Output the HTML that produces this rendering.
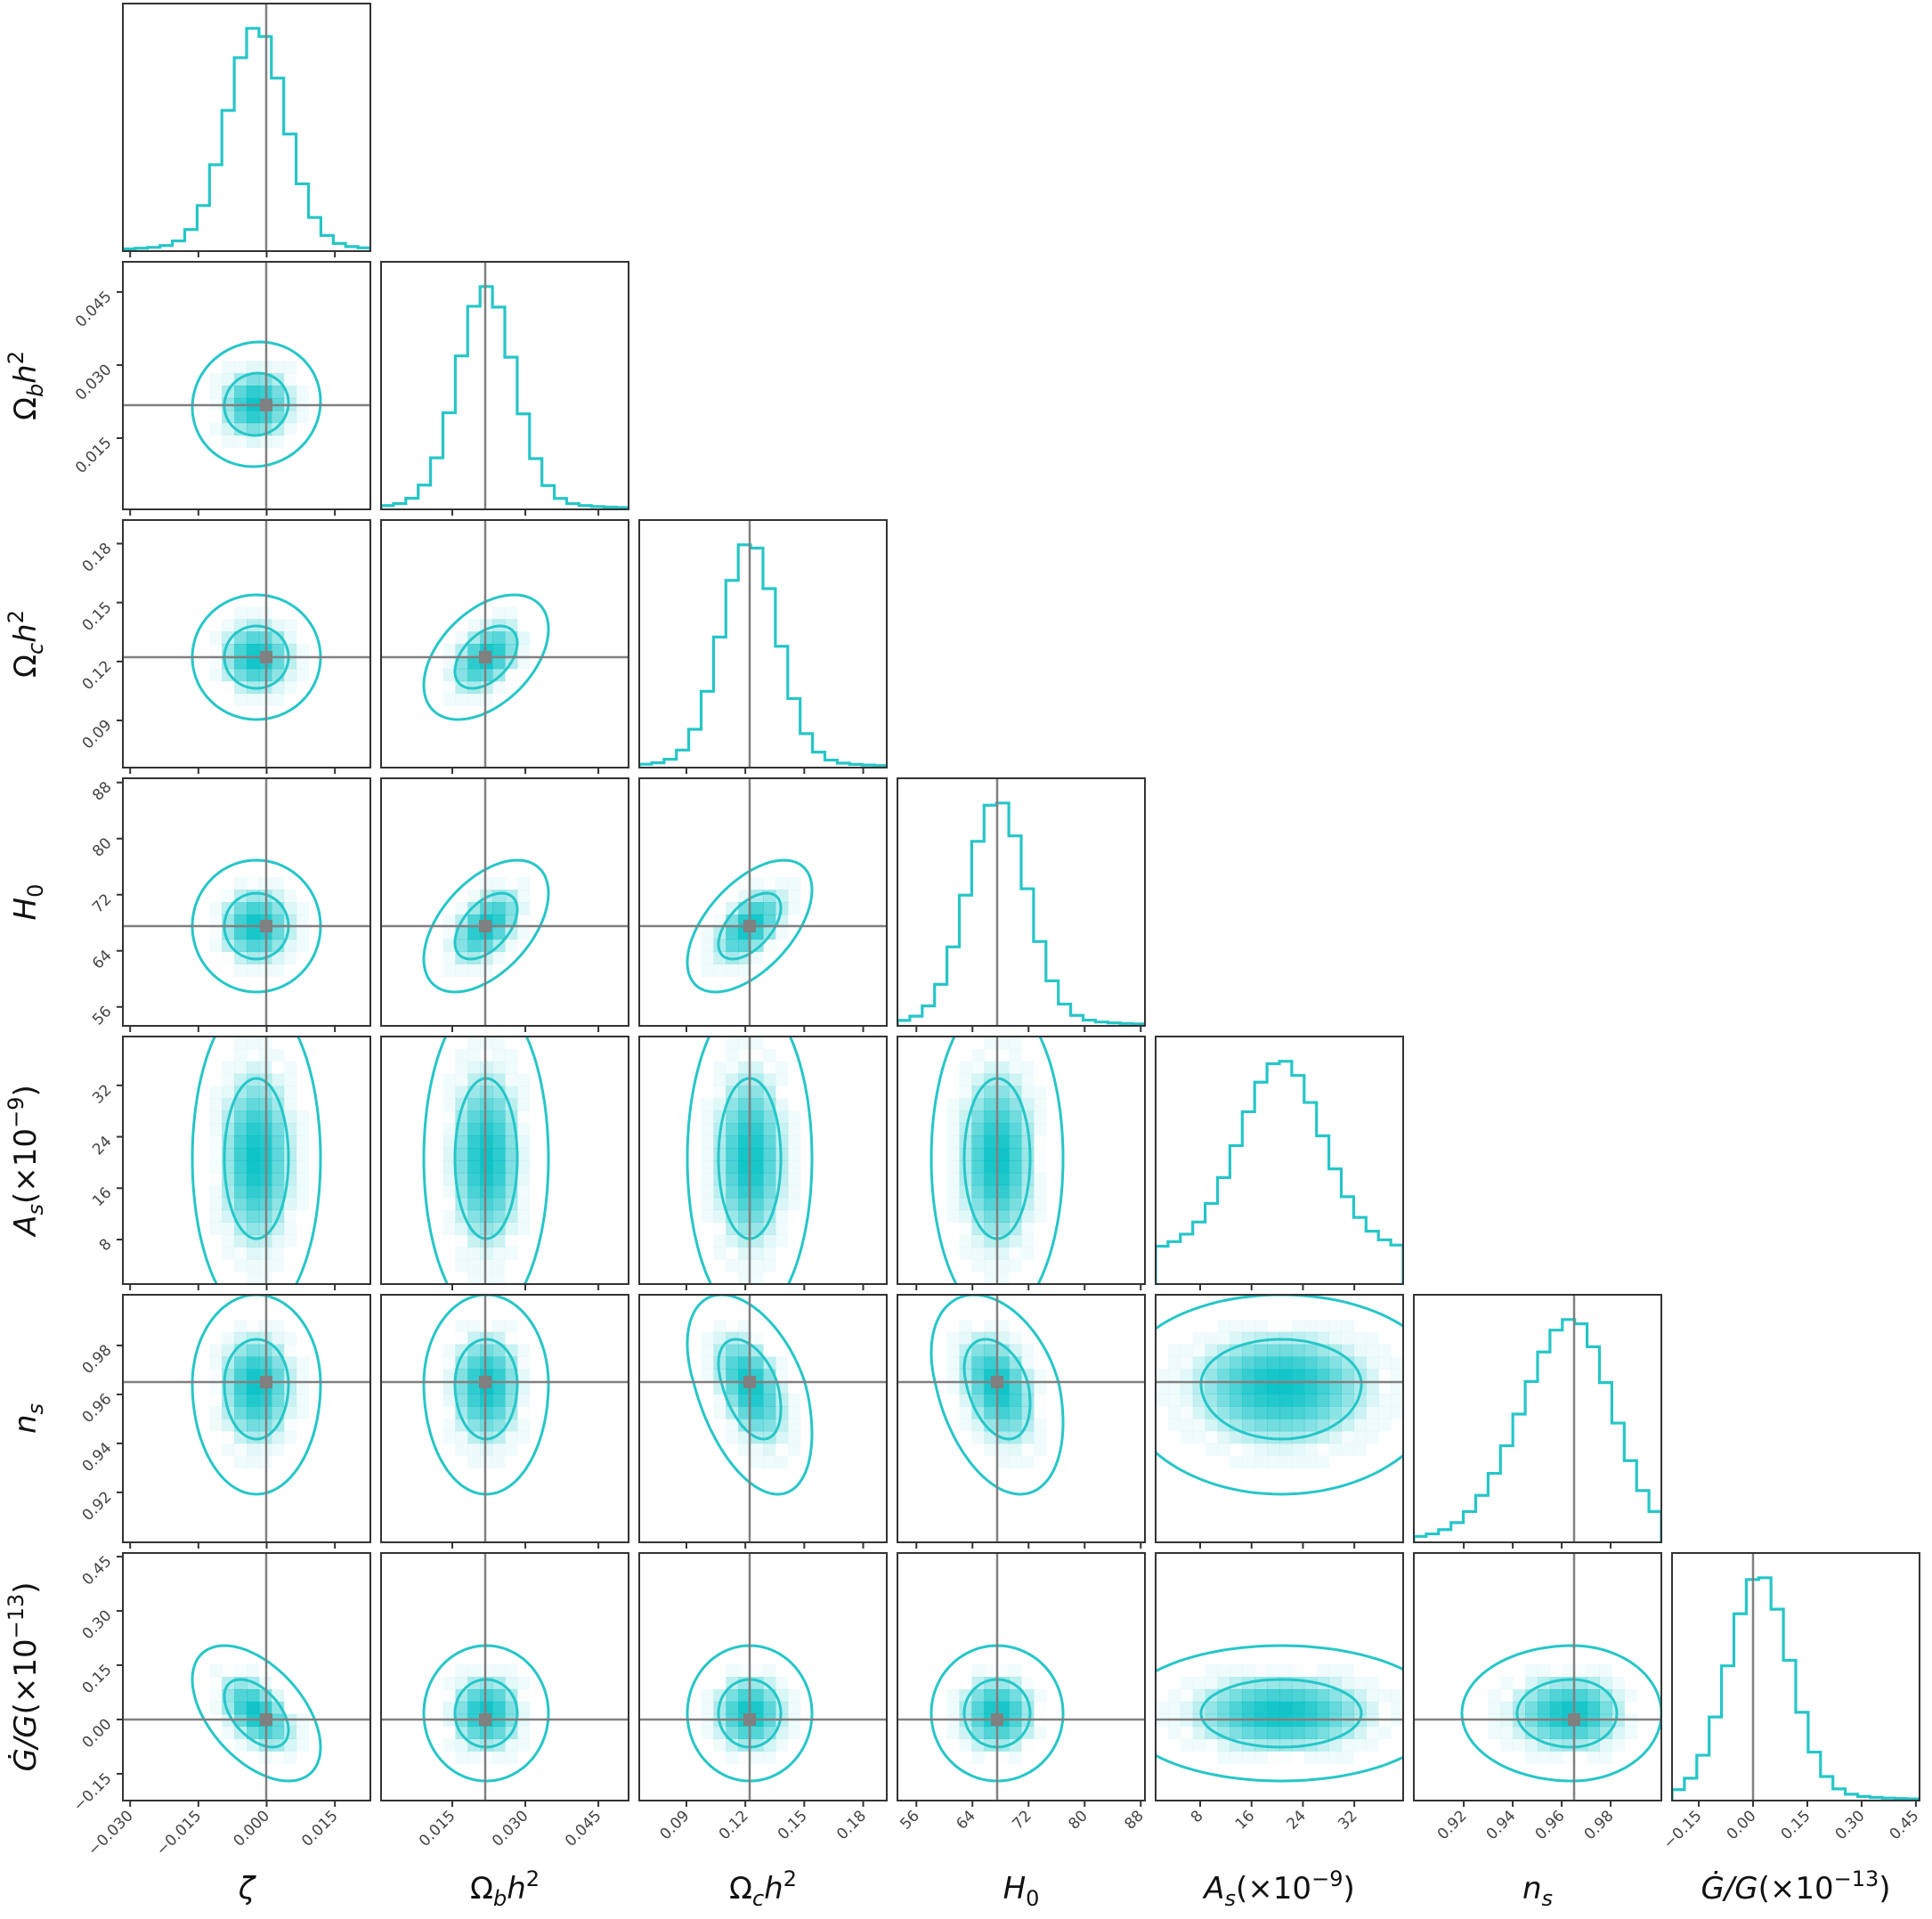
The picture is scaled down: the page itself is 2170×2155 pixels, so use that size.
<!DOCTYPE html>
<html><head><meta charset="utf-8"><style>
html,body{margin:0;padding:0;background:#fff;}
svg{display:block;}
</style></head><body>
<svg id="s" width="2170" height="2155" xmlns="http://www.w3.org/2000/svg" font-family="DejaVu Sans, Liberation Sans, sans-serif"></svg>
<script>
const svg=document.getElementById('s');
const L=138,T=4,P=290,S=278,C='#26c6c8';
let out='';
const pr=[
 {mu:150,lo:36,hi:36,truth:161,min:-0.0316,max:0.0228,ticks:[[-0.030,'−0.030'],[-0.015,'−0.015'],[0,'0.000'],[0.015,'0.015']]},
 {mu:118,lo:35,hi:35,truth:117,min:0.00037,max:0.0512,ticks:[[0.015,'0.015'],[0.030,'0.030'],[0.045,'0.045']]},
 {mu:124,lo:35,hi:35,truth:124,min:0.066,max:0.192,ticks:[[0.09,'0.09'],[0.12,'0.12'],[0.15,'0.15'],[0.18,'0.18']]},
 {mu:112,lo:37,hi:37,truth:112,min:53.3,max:88.6,ticks:[[56,'56'],[64,'64'],[72,'72'],[80,'80'],[88,'88']]},
 {mu:141,lo:90,hi:90,truth:null,min:1.07,max:39.6,ticks:[[8,'8'],[16,'16'],[24,'24'],[32,'32']],heavy:true},
 {mu:178,lo:62,hi:50,truth:180,min:0.8996,max:1.0007,ticks:[[0.92,'0.92'],[0.94,'0.94'],[0.96,'0.96'],[0.98,'0.98']]},
 {mu:98,lo:38,hi:38,truth:91,min:-0.224,max:0.460,ticks:[[-0.15,'−0.15'],[0,'0.00'],[0.15,'0.15'],[0.30,'0.30'],[0.45,'0.45']]}
];
const rho={};
function setr(a,b,v){rho[a+','+b]=v;rho[b+','+a]=v;}
setr(0,6,-0.5);setr(1,2,0.45);setr(1,3,0.5);setr(2,3,0.55);setr(2,5,-0.45);setr(3,5,-0.35);setr(0,1,0.05);
const v2p=(p,v)=>(v-p.min)/(p.max-p.min)*S;
let clipId=0;
for(let r=0;r<7;r++){
 for(let c=0;c<=r;c++){
  const x0=L+c*P,y0=T+r*P;
  clipId++;
  out+=`<clipPath id="c${clipId}"><rect x="${x0}" y="${y0}" width="${S}" height="${S}"/></clipPath><g clip-path="url(#c${clipId})">`;
  if(r===c){
   const p=pr[c];const nb=20,bw=S/nb;let vals=[];
   for(let i=0;i<nb;i++){const u=(i+0.5)*bw-p.mu;let d;
    if(p.heavy){d=0.8*Math.exp(-0.5*(u/45)**2)+0.2*Math.exp(-0.5*(u/200)**2);}
    else{const s=(u<0?p.lo:p.hi)*0.9;d=0.97*Math.exp(-0.5*(u/s)**2)+0.03*Math.exp(-0.5*(u/(s*3))**2);}
    vals.push(d);}
   const mx=Math.max(...vals);
   let path=`M${x0},${y0+S}`;
   for(let i=0;i<nb;i++){const h=y0+S-vals[i]/mx*0.9*S;path+=` L${x0+i*bw},${h} L${x0+(i+1)*bw},${h}`;}
   path+=` L${x0+S},${y0+S}`;
   out+=`<path d="${path}" fill="none" stroke="${C}" stroke-width="3.2"/>`;
   if(p.truth!==null)out+=`<line x1="${x0+p.truth}" y1="${y0}" x2="${x0+p.truth}" y2="${y0+S}" stroke="#808080" stroke-width="2.5"/>`;
  } else {
   const px=pr[c],py=pr[r];const rh=rho[c+','+r]||0;const sq=Math.sqrt(1-rh*rh);
   const nb=20,bw=S/nb;
   for(let i=0;i<nb;i++)for(let j=0;j<nb;j++){
     const ux=(i+0.5)*bw-px.mu; const uyv=(S-(j+0.5)*bw)-py.mu;
     const a=ux/(ux<0?px.lo:px.hi), b=uyv/(uyv<0?py.lo:py.hi);
     const r2=(a*a-2*rh*a*b+b*b)/(1-rh*rh);
     let g=Math.exp(-0.5*r2);
     let al=(g-0.42)/0.58; if(al<=0)al=(g>0.3)?0.06:0; if(al<=0)continue; al=Math.min(1,al);
     out+=`<rect x="${(x0+i*bw).toFixed(1)}" y="${(y0+j*bw).toFixed(1)}" width="${bw+0.5}" height="${bw+0.5}" fill="#00c0c4" fill-opacity="${(al*0.95).toFixed(2)}"/>`;
   }
   for(const k of [1,2]){
    let d='';
    for(let t=0;t<=120;t++){const th=t/120*2*Math.PI;const u1=Math.cos(th),u2=Math.sin(th);
      const a=k*u1,b=k*(rh*u1+sq*u2);
      const ox=px.mu+(a<0?px.lo:px.hi)*a; const oy=py.mu+(b<0?py.lo:py.hi)*b;
      d+=(t?' L':'M')+(x0+ox).toFixed(1)+','+(y0+S-oy).toFixed(1);}
    out+=`<path d="${d}Z" fill="none" stroke="${C}" stroke-width="3"/>`;
   }
   if(px.truth!==null)out+=`<line x1="${x0+px.truth}" y1="${y0}" x2="${x0+px.truth}" y2="${y0+S}" stroke="#808080" stroke-width="2.5"/>`;
   if(py.truth!==null)out+=`<line x1="${x0}" y1="${y0+S-py.truth}" x2="${x0+S}" y2="${y0+S-py.truth}" stroke="#808080" stroke-width="2.5"/>`;
   if(px.truth!==null&&py.truth!==null)out+=`<rect x="${x0+px.truth-7}" y="${y0+S-py.truth-7}" width="14" height="14" fill="#808080"/>`;
  }
  out+='</g>';
  out+=`<rect x="${x0}" y="${y0}" width="${S}" height="${S}" fill="none" stroke="#333" stroke-width="2"/>`;
  const p=pr[c];
  for(const [v,lab] of p.ticks){const tx=x0+v2p(p,v);
    out+=`<line x1="${tx}" y1="${y0+S}" x2="${tx}" y2="${y0+S+7}" stroke="#333" stroke-width="2"/>`;
    if(r===6)out+=`<text x="${tx+4}" y="${y0+S+18}" font-size="17" fill="#444" text-anchor="end" transform="rotate(-45 ${tx+4} ${y0+S+18})">${lab}</text>`;}
  if(c===0&&r>0){const q=pr[r];
   for(const [v,lab] of q.ticks){const ty=y0+S-v2p(q,v);
    out+=`<line x1="${x0-7}" y1="${ty}" x2="${x0}" y2="${ty}" stroke="#333" stroke-width="2"/>`;
    out+=`<text x="${x0-12}" y="${ty+6}" font-size="17" fill="#444" text-anchor="end" transform="rotate(-45 ${x0-12} ${ty+6})">${lab}</text>`;}}
 }
}
const labs=[
 '<tspan font-style="italic">ζ</tspan>',
 'Ω<tspan font-style="italic" font-size="24" dy="8">b</tspan><tspan font-style="italic" dy="-8">h</tspan><tspan font-size="24" dy="-14">2</tspan>',
 'Ω<tspan font-style="italic" font-size="24" dy="8">c</tspan><tspan font-style="italic" dy="-8">h</tspan><tspan font-size="24" dy="-14">2</tspan>',
 '<tspan font-style="italic">H</tspan><tspan font-size="24" dy="8">0</tspan>',
 '<tspan font-style="italic">A</tspan><tspan font-style="italic" font-size="24" dy="8">s</tspan><tspan dy="-8">(×10</tspan><tspan font-size="24" dy="-14">−9</tspan><tspan dy="14">)</tspan>',
 '<tspan font-style="italic">n</tspan><tspan font-style="italic" font-size="24" dy="8">s</tspan>',
 '<tspan font-style="italic">Ġ/G</tspan>(×10<tspan font-size="24" dy="-14">−13</tspan><tspan dy="14">)</tspan>'
];
for(let i=0;i<7;i++){
 const cx=L+i*P+S/2;
 out+=`<text x="${cx}" y="2132" font-size="34" fill="#111" text-anchor="middle">${labs[i]}</text>`;
 if(i>0){const cy=T+i*P+S/2;
  out+=`<text x="40" y="${cy}" font-size="34" fill="#111" text-anchor="middle" transform="rotate(-90 40 ${cy})">${labs[i]}</text>`;}
}
svg.innerHTML=out;
</script>
</body></html>
